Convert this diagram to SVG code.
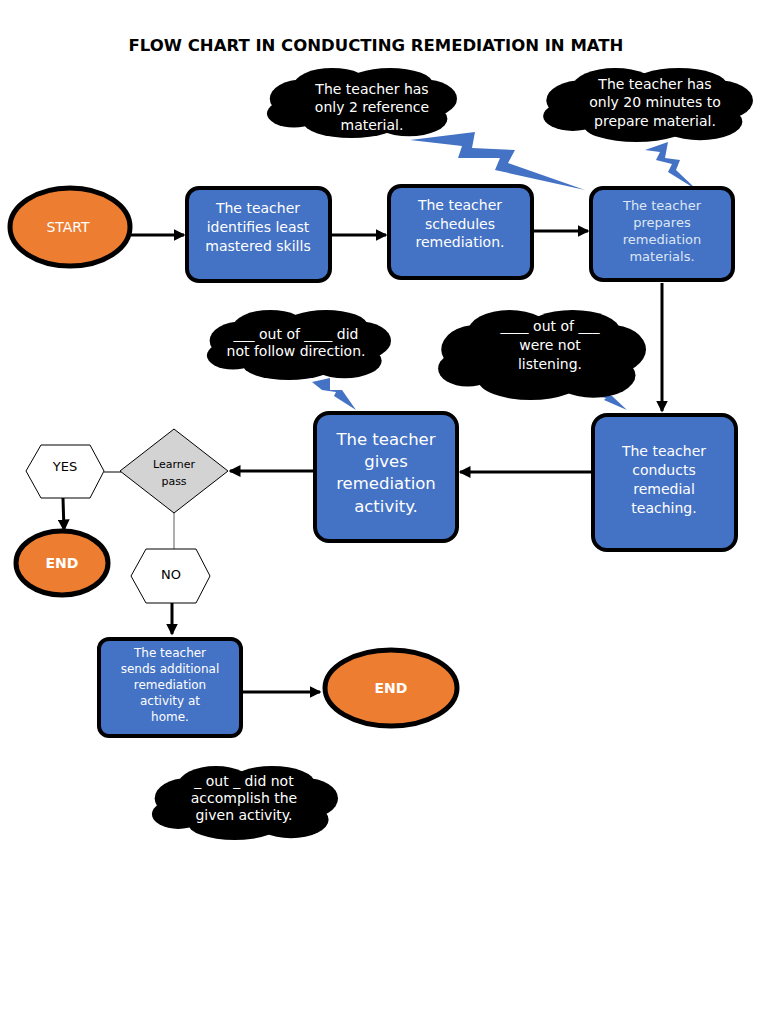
<svg xmlns="http://www.w3.org/2000/svg" xmlns:xlink="http://www.w3.org/1999/xlink" width="768" height="1024" viewBox="0 0 768 1024">
<style>
text{font-family:"DejaVu Sans",Verdana,sans-serif;text-anchor:middle}
.box{fill:#4472C4;stroke:#000;stroke-width:4}
.bt{fill:#fff;font-size:14px}
.ov{fill:#ED7D31;stroke:#000;stroke-width:5}
.hex{fill:#fff;stroke:#000;stroke-width:1}
.ct{fill:#fff;font-size:14px}
.bolt{fill:#4472C4}
.ln{stroke:#000;stroke-width:3;fill:none}
</style>
<defs>
<marker id="ah" markerWidth="4" markerHeight="4" refX="3.5" refY="2" orient="auto"><path d="M0,0L4,2L0,4z" fill="#000"/></marker>
<symbol id="cloud" viewBox="0 0 200 80" preserveAspectRatio="none">
<g fill="#000"><ellipse cx="100" cy="40" rx="85" ry="30"/><ellipse cx="40" cy="35" rx="35" ry="22"/><ellipse cx="70" cy="20" rx="40" ry="20"/><ellipse cx="130" cy="18" rx="45" ry="18"/><ellipse cx="165" cy="35" rx="35" ry="22"/><ellipse cx="150" cy="58" rx="40" ry="20"/><ellipse cx="90" cy="62" rx="50" ry="18"/><ellipse cx="30" cy="52" rx="28" ry="16"/></g>
</symbol>
</defs>
<rect width="768" height="1024" fill="#fff"/>
<text x="376" y="51" font-size="16.5" font-weight="bold" fill="#000">FLOW CHART IN CONDUCTING REMEDIATION IN MATH</text>

<g id="bolts">
<polygon class="bolt" points="410,140 475,132 472,148 515,150 508,163 585,190 495,170 500,158 458,158 462,146"/>
<polygon class="bolt" points="645,150 668,142 665,158 680,160 676,170 697,190 668,172 672,164 656,160 660,152"/>
<polygon class="bolt" points="312,382 330,378 330,390 342,390 356,410 334,396 336,392 322,390"/>
<polygon class="bolt" points="590,388 605,385 605,396 612,396 627,410 604,400 606,398 596,396"/>
</g>

<g id="cloud1"><use href="#cloud" x="265" y="68" width="192" height="70"/><text class="ct" x="372" y="94">The teacher has</text><text class="ct" x="372" y="112">only 2 reference</text><text class="ct" x="372" y="130">material.</text></g>
<g id="cloud2"><use href="#cloud" x="541" y="68" width="212" height="74"/><text class="ct" x="655" y="89">The teacher has</text><text class="ct" x="655" y="107">only 20 minutes to</text><text class="ct" x="655" y="126">prepare material.</text></g>
<g id="cloud3"><use href="#cloud" x="205" y="310" width="186" height="70"/><text class="ct" x="296" y="339" font-size="12.5">___ out of ____ did</text><text class="ct" x="296" y="356" font-size="12.5">not follow direction.</text></g>
<g id="cloud4"><use href="#cloud" x="436" y="310" width="210" height="90"/><text class="ct" x="550" y="331">____ out of ___</text><text class="ct" x="550" y="350">were not</text><text class="ct" x="550" y="369">listening.</text></g>
<g id="cloud5"><use href="#cloud" x="150" y="766" width="188" height="74"/><text class="ct" x="244" y="786" font-size="12.5">_ out _ did not</text><text class="ct" x="244" y="803" font-size="12.5">accomplish the</text><text class="ct" x="244" y="820" font-size="12.5">given activity.</text></g>

<g id="connectors">
<line class="ln" x1="131" y1="235" x2="184" y2="235" marker-end="url(#ah)"/>
<line class="ln" x1="331" y1="235" x2="386" y2="235" marker-end="url(#ah)"/>
<line class="ln" x1="534" y1="231" x2="588" y2="231" marker-end="url(#ah)"/>
<line class="ln" x1="662" y1="283" x2="662" y2="411" marker-end="url(#ah)"/>
<line class="ln" x1="592" y1="472" x2="460" y2="472" marker-end="url(#ah)"/>
<line class="ln" x1="314" y1="471" x2="230" y2="471" marker-end="url(#ah)"/>
<line x1="104" y1="472" x2="121" y2="472" stroke="#000" stroke-width="1"/>
<line class="ln" x1="63" y1="498" x2="64" y2="530" marker-end="url(#ah)"/>
<line x1="174" y1="513" x2="174" y2="549" stroke="#777" stroke-width="1.2"/>
<line class="ln" x1="172" y1="603" x2="172" y2="634" marker-end="url(#ah)"/>
<line class="ln" x1="243" y1="692" x2="320" y2="692" marker-end="url(#ah)"/>
</g>

<g id="start"><ellipse class="ov" cx="70" cy="227" rx="60" ry="39"/><text x="68" y="232" fill="#fff" font-size="14">START</text></g>
<g id="identify"><rect class="box" x="187" y="188" width="143" height="93" rx="12"/><text class="bt" x="258" y="213">The teacher</text><text class="bt" x="258" y="232">identifies least</text><text class="bt" x="258" y="251">mastered skills</text></g>
<g id="schedule"><rect class="box" x="389" y="186" width="143" height="92" rx="12"/><text class="bt" x="460" y="210">The teacher</text><text class="bt" x="460" y="229">schedules</text><text class="bt" x="460" y="247">remediation.</text></g>
<g id="prepare"><rect class="box" x="591" y="188" width="142" height="92" rx="12"/><text x="662" y="210" fill="#dde6f5" font-size="13">The teacher</text><text x="662" y="227" fill="#dde6f5" font-size="13">prepares</text><text x="662" y="244" fill="#dde6f5" font-size="13">remediation</text><text x="662" y="261" fill="#dde6f5" font-size="13">materials.</text></g>
<g id="conduct"><rect class="box" x="593" y="415" width="143" height="135" rx="14"/><text class="bt" x="664" y="456">The teacher</text><text class="bt" x="664" y="475">conducts</text><text class="bt" x="664" y="494">remedial</text><text class="bt" x="664" y="513">teaching.</text></g>
<g id="gives"><rect class="box" x="315" y="413" width="142" height="128" rx="14"/><text x="386" y="445" fill="#fff" font-size="16.5">The teacher</text><text x="386" y="467" fill="#fff" font-size="16.5">gives</text><text x="386" y="489" fill="#fff" font-size="16.5">remediation</text><text x="386" y="512" fill="#fff" font-size="16.5">activity.</text></g>
<g id="decision"><polygon points="174,429 228,471 174,513 120,471" fill="#D3D3D3" stroke="#000" stroke-width="1"/><text x="174" y="468" font-size="11" fill="#000">Learner</text><text x="174" y="485" font-size="11" fill="#000">pass</text></g>
<g id="yes"><polygon class="hex" points="26,471 41,445 90,445 104,471 90,498 41,498"/><text x="65" y="471" font-size="13" fill="#000">YES</text></g>
<g id="end1"><ellipse class="ov" cx="62" cy="563" rx="46" ry="32"/><text x="62" y="568" fill="#fff" font-size="14" font-weight="bold">END</text></g>
<g id="no"><polygon class="hex" points="131,576 146,549 196,549 210,576 196,603 146,603"/><text x="171" y="579" font-size="13" fill="#000">NO</text></g>
<g id="sends"><rect class="box" x="99" y="639" width="142" height="97" rx="10"/><text x="170" y="657" fill="#fff" font-size="12">The teacher</text><text x="170" y="673" fill="#fff" font-size="12">sends additional</text><text x="170" y="689" fill="#fff" font-size="12">remediation</text><text x="170" y="705" fill="#fff" font-size="12">activity at</text><text x="170" y="721" fill="#fff" font-size="12">home.</text></g>
<g id="end2"><ellipse class="ov" cx="391" cy="688" rx="66" ry="38"/><text x="391" y="693" fill="#fff" font-size="14" font-weight="bold">END</text></g>
</svg>
